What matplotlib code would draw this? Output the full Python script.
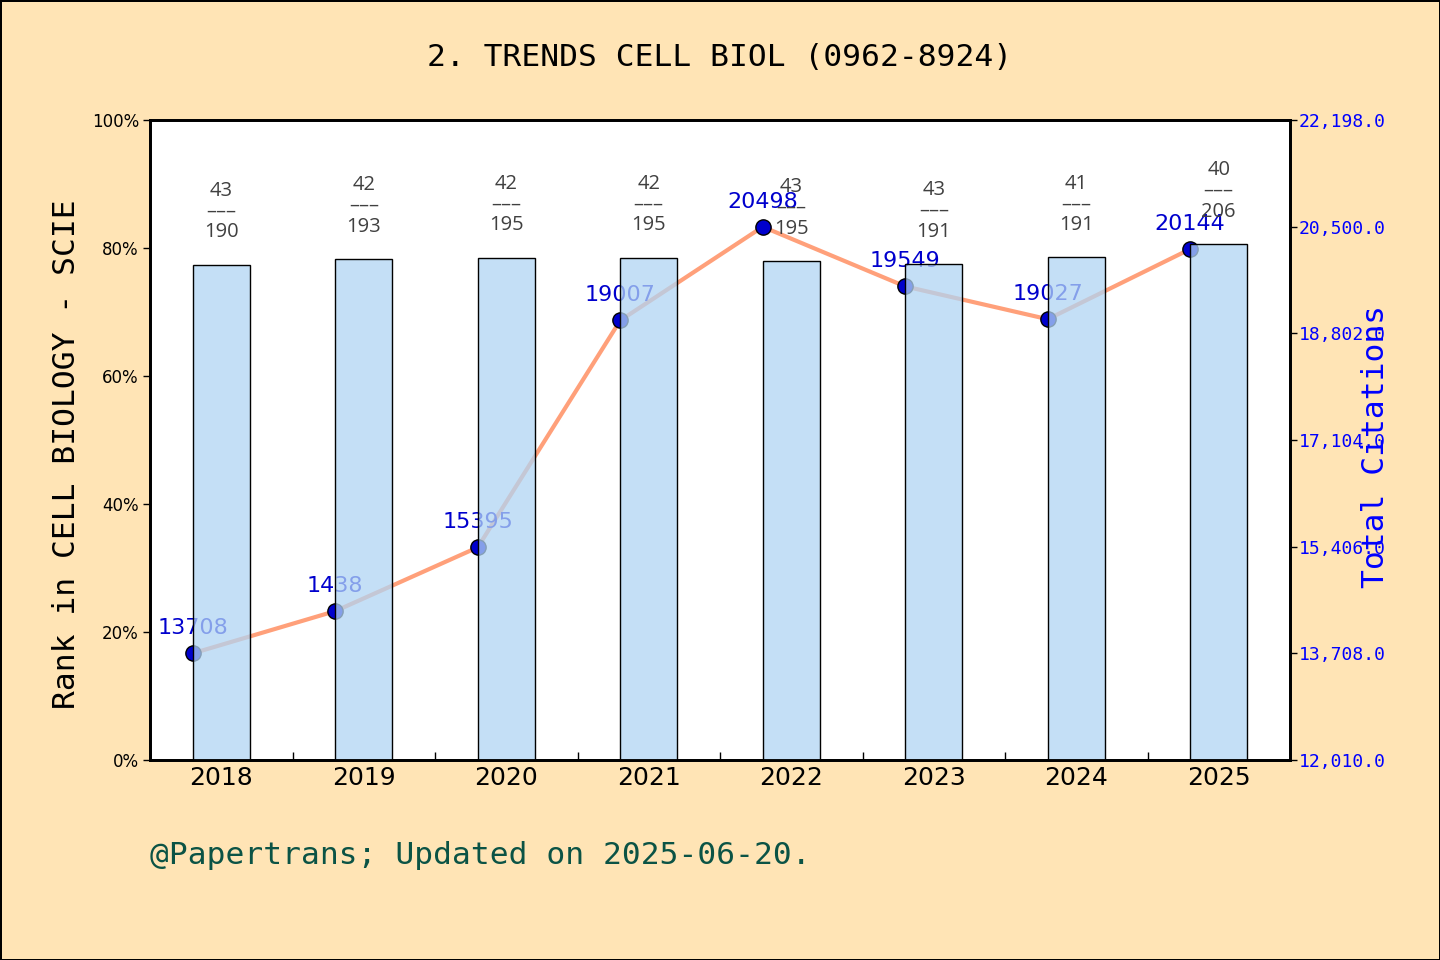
import numpy as np
import matplotlib.pyplot as plt

# data
years = [2018, 2019, 2020, 2021, 2022, 2023, 2024, 2025]
rank = [43, 42, 42, 42, 43, 43, 41, 40]
total = [190, 193, 195, 195, 195, 191, 191, 206]
citations = [13708, 14380, 15395, 19007, 20498, 19549, 19027, 20144]
cite_ticks = [12010, 13708, 15406, 17104, 18802, 20500, 22198]

x = np.arange(len(years))
share = 1 - np.array(rank) / np.array(total)

mono = 'DejaVu Sans Mono'

fig = plt.figure(figsize=(14.4, 9.6), dpi=100, facecolor='#FFE4B5',
                 edgecolor='black', linewidth=2)
ax = fig.add_axes([150 / 1440, 200 / 960, 1140 / 1440, 640 / 960])
ax2 = ax.twinx()
# bars sit on top of the citation line, white plot area comes from ax2
ax.set_zorder(ax2.get_zorder() + 1)
ax.patch.set_visible(False)
ax2.patch.set_visible(True)
ax2.patch.set_facecolor('white')

# citations line (right axis)
ax2.plot(x - 0.2, citations, color='#FFA07A', lw=3, marker='o', ms=11,
         mfc='#0000CD', mec='black', mew=1)
for xi, c in zip(x, citations):
    # the original drops trailing zeros from the label
    ax2.annotate(str(c).rstrip('0'), (xi - 0.2, c), xytext=(0, 18),
                 textcoords='offset points', ha='center', va='center',
                 fontsize=16, color='#0000CD')
ax2.set_ylim(cite_ticks[0], cite_ticks[-1])
ax2.set_yticks(cite_ticks)
ax2.set_yticklabels([f"{v:,.1f}" for v in cite_ticks], family=mono,
                    color='blue', fontsize=13)
ax2.tick_params(axis='y', length=5, width=1, pad=1)

# rank share bars (left axis)
ax.bar(x, share, width=0.4, color=(177 / 255, 213 / 255, 244 / 255, 0.75),
       edgecolor='black', lw=1)
for xi, s, r, t in zip(x, share, rank, total):
    ax.text(xi, s + 0.083, f"{r}\n\u2013\u2013\u2013\n{t}", ha='center',
            va='center', fontsize=14.5, color='#404040', family='Open Sans',
            linespacing=1.05)

ax.set_xlim(-0.5, len(years) - 0.5)
ax.set_ylim(0, 1)
ax.set_xticks(x, labels=[str(y) for y in years])
ax.set_xticks(x[:-1] + 0.5, minor=True)
ax.tick_params(axis='x', which='major', length=0, labelsize=18, pad=4)
ax.tick_params(axis='x', which='minor', direction='in', length=6, width=1)
ax.set_yticks(np.linspace(0, 1, 6))
ax.set_yticklabels([f"{v:.0%}" for v in np.linspace(0, 1, 6)], fontsize=12)
ax.tick_params(axis='y', length=5, width=1, pad=3)

for a in (ax, ax2):
    for sp in a.spines.values():
        sp.set_linewidth(2)

fig.text(0.5, 1 - 57 / 960, "2. TRENDS CELL BIOL (0962-8924)", family=mono,
         fontsize=22.5, ha='center', va='center', color='black')
fig.text(67 / 1440, 1 - 454 / 960, "Rank in CELL BIOLOGY - SCIE", family=mono,
         fontsize=22.5, rotation=90, ha='center', va='center', color='black')
fig.text(1375 / 1440, 1 - 446 / 960, "Total Citations", family=mono,
         fontsize=22.5, rotation=90, ha='center', va='center', color='blue')
fig.text(150 / 1440, 1 - 855 / 960, "@Papertrans; Updated on 2025-06-20.",
         family=mono, fontsize=22.5, ha='left', va='center', color='#0B5345')

fig.savefig('out.png', dpi=100, facecolor=fig.get_facecolor(),
            edgecolor=fig.get_edgecolor())
